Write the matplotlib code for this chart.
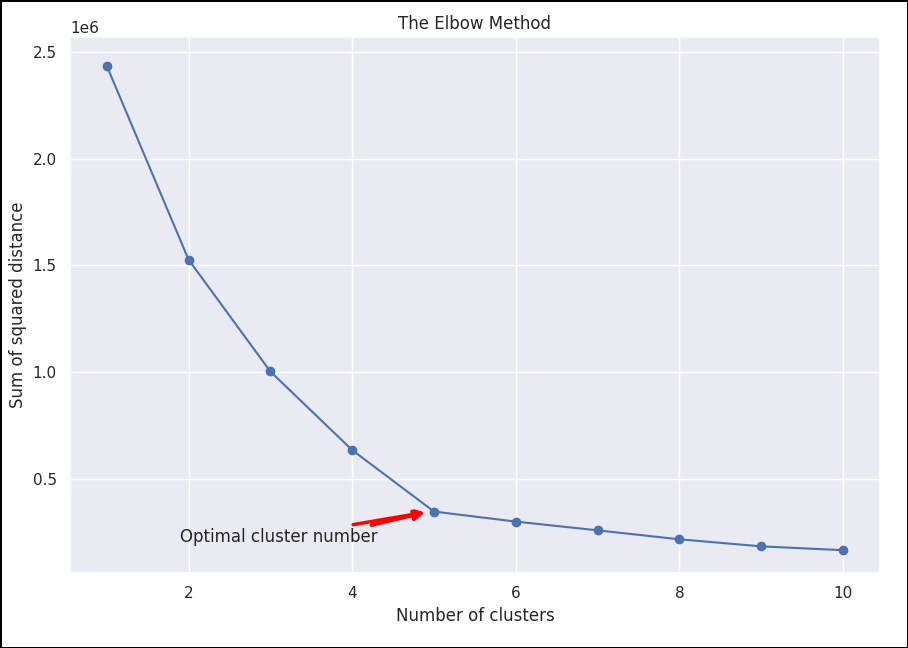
import matplotlib.pyplot as plt
import seaborn as sns

sns.set_theme(style='darkgrid')

clusters = [1, 2, 3, 4, 5, 6, 7, 8, 9, 10]
ssd = [2.435e6, 1.527e6, 1.003e6, 0.635e6, 0.347e6, 0.300e6, 0.259e6, 0.217e6, 0.184e6, 0.166e6]

fig = plt.figure(figsize=(9.08, 6.48), dpi=100)
fig.patch.set_edgecolor('black')
fig.patch.set_linewidth(2)
ax = fig.add_axes([0.077, 0.116, 0.892, 0.827])

ax.plot(clusters, ssd, marker='o', color='#4c72b0', markersize=6)
ax.annotate('Optimal cluster number', xy=(4.92, 0.345e6), xytext=(1.89, 0.226e6),
            fontsize=12, va='center',
            arrowprops=dict(arrowstyle='->', color='red', lw=2.5))
ax.annotate('', xy=(4.92, 0.345e6), xytext=(4.2, 0.28e6),
            arrowprops=dict(arrowstyle='-|>', color='red', lw=2.5, mutation_scale=15))

ax.set_title('The Elbow Method', fontsize=12)
ax.set_xlabel('Number of clusters', fontsize=12)
ax.set_ylabel('Sum of squared distance', fontsize=12)
ax.set_xlim(0.55, 10.45)
ax.set_ylim(0.06e6, 2.57e6)

fig.savefig('out.png', dpi=100, edgecolor=fig.get_edgecolor())
